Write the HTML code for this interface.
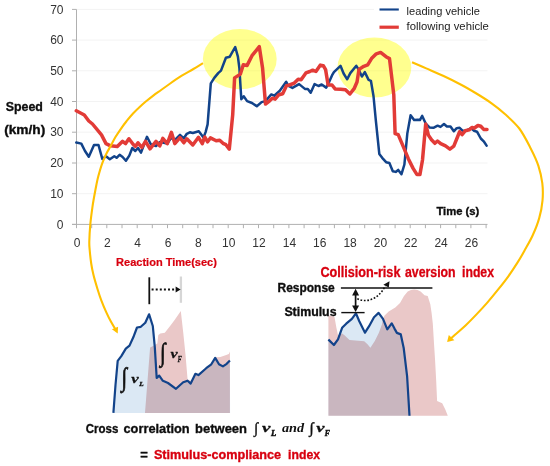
<!DOCTYPE html>
<html lang="en"><head><meta charset="utf-8"><title>Speed profile</title>
<style>html,body{margin:0;padding:0;background:#fff}body{width:550px;height:466px;overflow:hidden}</style></head>
<body>
<svg width="550" height="466" viewBox="0 0 550 466" style="display:block;font-family:'Liberation Sans', sans-serif">
<rect width="550" height="466" fill="#fff"/>
<line x1="77" y1="193.7" x2="487.5" y2="193.7" stroke="#f3f3f3" stroke-width="1"/>
<line x1="77" y1="163.0" x2="487.5" y2="163.0" stroke="#f3f3f3" stroke-width="1"/>
<line x1="77" y1="132.2" x2="487.5" y2="132.2" stroke="#f3f3f3" stroke-width="1"/>
<line x1="77" y1="101.5" x2="487.5" y2="101.5" stroke="#f3f3f3" stroke-width="1"/>
<line x1="77" y1="70.8" x2="487.5" y2="70.8" stroke="#f3f3f3" stroke-width="1"/>
<line x1="77" y1="40.1" x2="487.5" y2="40.1" stroke="#f3f3f3" stroke-width="1"/>
<line x1="77" y1="9.4" x2="487.5" y2="9.4" stroke="#f3f3f3" stroke-width="1"/>
<ellipse cx="239.8" cy="59.1" rx="36.9" ry="30.1" fill="#FFFF00" fill-opacity="0.44"/>
<ellipse cx="374.4" cy="67.5" rx="36.9" ry="30" fill="#FFFF00" fill-opacity="0.44"/>
<line x1="76.5" y1="9.4" x2="76.5" y2="224.9" stroke="#b0b0b0" stroke-width="1"/>
<line x1="72" y1="224.4" x2="487.5" y2="224.4" stroke="#b0b0b0" stroke-width="1"/>
<line x1="72" y1="224.4" x2="76.5" y2="224.4" stroke="#b0b0b0" stroke-width="1"/>
<text x="63.5" y="228.6" font-size="12" text-anchor="end" fill="#333">0</text>
<line x1="72" y1="193.7" x2="76.5" y2="193.7" stroke="#b0b0b0" stroke-width="1"/>
<text x="63.5" y="197.9" font-size="12" text-anchor="end" fill="#333">10</text>
<line x1="72" y1="163.0" x2="76.5" y2="163.0" stroke="#b0b0b0" stroke-width="1"/>
<text x="63.5" y="167.2" font-size="12" text-anchor="end" fill="#333">20</text>
<line x1="72" y1="132.2" x2="76.5" y2="132.2" stroke="#b0b0b0" stroke-width="1"/>
<text x="63.5" y="136.4" font-size="12" text-anchor="end" fill="#333">30</text>
<line x1="72" y1="101.5" x2="76.5" y2="101.5" stroke="#b0b0b0" stroke-width="1"/>
<text x="63.5" y="105.7" font-size="12" text-anchor="end" fill="#333">40</text>
<line x1="72" y1="70.8" x2="76.5" y2="70.8" stroke="#b0b0b0" stroke-width="1"/>
<text x="63.5" y="75.0" font-size="12" text-anchor="end" fill="#333">50</text>
<line x1="72" y1="40.1" x2="76.5" y2="40.1" stroke="#b0b0b0" stroke-width="1"/>
<text x="63.5" y="44.3" font-size="12" text-anchor="end" fill="#333">60</text>
<line x1="72" y1="9.4" x2="76.5" y2="9.4" stroke="#b0b0b0" stroke-width="1"/>
<text x="63.5" y="13.6" font-size="12" text-anchor="end" fill="#333">70</text>
<line x1="76.5" y1="224.4" x2="76.5" y2="228.20000000000002" stroke="#b0b0b0" stroke-width="1"/>
<text x="77.0" y="246.6" font-size="12" text-anchor="middle" fill="#333">0</text>
<line x1="91.7" y1="224.4" x2="91.7" y2="228.20000000000002" stroke="#b0b0b0" stroke-width="1"/>
<line x1="106.8" y1="224.4" x2="106.8" y2="228.20000000000002" stroke="#b0b0b0" stroke-width="1"/>
<text x="107.3" y="246.6" font-size="12" text-anchor="middle" fill="#333">2</text>
<line x1="122.0" y1="224.4" x2="122.0" y2="228.20000000000002" stroke="#b0b0b0" stroke-width="1"/>
<line x1="137.2" y1="224.4" x2="137.2" y2="228.20000000000002" stroke="#b0b0b0" stroke-width="1"/>
<text x="137.7" y="246.6" font-size="12" text-anchor="middle" fill="#333">4</text>
<line x1="152.3" y1="224.4" x2="152.3" y2="228.20000000000002" stroke="#b0b0b0" stroke-width="1"/>
<line x1="167.5" y1="224.4" x2="167.5" y2="228.20000000000002" stroke="#b0b0b0" stroke-width="1"/>
<text x="168.0" y="246.6" font-size="12" text-anchor="middle" fill="#333">6</text>
<line x1="182.7" y1="224.4" x2="182.7" y2="228.20000000000002" stroke="#b0b0b0" stroke-width="1"/>
<line x1="197.9" y1="224.4" x2="197.9" y2="228.20000000000002" stroke="#b0b0b0" stroke-width="1"/>
<text x="198.4" y="246.6" font-size="12" text-anchor="middle" fill="#333">8</text>
<line x1="213.0" y1="224.4" x2="213.0" y2="228.20000000000002" stroke="#b0b0b0" stroke-width="1"/>
<line x1="228.2" y1="224.4" x2="228.2" y2="228.20000000000002" stroke="#b0b0b0" stroke-width="1"/>
<text x="228.7" y="246.6" font-size="12" text-anchor="middle" fill="#333">10</text>
<line x1="243.4" y1="224.4" x2="243.4" y2="228.20000000000002" stroke="#b0b0b0" stroke-width="1"/>
<line x1="258.5" y1="224.4" x2="258.5" y2="228.20000000000002" stroke="#b0b0b0" stroke-width="1"/>
<text x="259.0" y="246.6" font-size="12" text-anchor="middle" fill="#333">12</text>
<line x1="273.7" y1="224.4" x2="273.7" y2="228.20000000000002" stroke="#b0b0b0" stroke-width="1"/>
<line x1="288.9" y1="224.4" x2="288.9" y2="228.20000000000002" stroke="#b0b0b0" stroke-width="1"/>
<text x="289.4" y="246.6" font-size="12" text-anchor="middle" fill="#333">14</text>
<line x1="304.1" y1="224.4" x2="304.1" y2="228.20000000000002" stroke="#b0b0b0" stroke-width="1"/>
<line x1="319.2" y1="224.4" x2="319.2" y2="228.20000000000002" stroke="#b0b0b0" stroke-width="1"/>
<text x="319.7" y="246.6" font-size="12" text-anchor="middle" fill="#333">16</text>
<line x1="334.4" y1="224.4" x2="334.4" y2="228.20000000000002" stroke="#b0b0b0" stroke-width="1"/>
<line x1="349.6" y1="224.4" x2="349.6" y2="228.20000000000002" stroke="#b0b0b0" stroke-width="1"/>
<text x="350.1" y="246.6" font-size="12" text-anchor="middle" fill="#333">18</text>
<line x1="364.7" y1="224.4" x2="364.7" y2="228.20000000000002" stroke="#b0b0b0" stroke-width="1"/>
<line x1="379.9" y1="224.4" x2="379.9" y2="228.20000000000002" stroke="#b0b0b0" stroke-width="1"/>
<text x="380.4" y="246.6" font-size="12" text-anchor="middle" fill="#333">20</text>
<line x1="395.1" y1="224.4" x2="395.1" y2="228.20000000000002" stroke="#b0b0b0" stroke-width="1"/>
<line x1="410.2" y1="224.4" x2="410.2" y2="228.20000000000002" stroke="#b0b0b0" stroke-width="1"/>
<text x="410.7" y="246.6" font-size="12" text-anchor="middle" fill="#333">22</text>
<line x1="425.4" y1="224.4" x2="425.4" y2="228.20000000000002" stroke="#b0b0b0" stroke-width="1"/>
<line x1="440.6" y1="224.4" x2="440.6" y2="228.20000000000002" stroke="#b0b0b0" stroke-width="1"/>
<text x="441.1" y="246.6" font-size="12" text-anchor="middle" fill="#333">24</text>
<line x1="455.8" y1="224.4" x2="455.8" y2="228.20000000000002" stroke="#b0b0b0" stroke-width="1"/>
<line x1="470.9" y1="224.4" x2="470.9" y2="228.20000000000002" stroke="#b0b0b0" stroke-width="1"/>
<text x="471.4" y="246.6" font-size="12" text-anchor="middle" fill="#333">26</text>
<line x1="486.1" y1="224.4" x2="486.1" y2="228.20000000000002" stroke="#b0b0b0" stroke-width="1"/>
<polyline points="76.3,142.5 81.3,143.6 85.0,151.0 88.8,156.8 94.0,145.0 98.5,145.0 102.3,158.9 106.0,156.3 109.8,159.3 114.3,156.3 116.6,157.8 119.6,154.8 122.6,157.0 125.9,160.8 129.3,155.6 132.3,148.0 135.3,151.0 138.0,148.0 141.0,152.6 147.0,136.8 150.8,144.3 156.0,146.0 160.0,142.0 167.3,143.6 171.0,138.0 175.5,139.4 180.0,134.8 183.8,138.3 186.8,133.8 189.8,132.3 192.8,133.0 198.8,131.2 203.5,137.5 205.6,132.1 207.6,124.4 210.8,83.4 214.3,77.9 218.2,73.1 221.0,70.6 225.9,57.7 229.8,56.7 235.2,47.0 237.9,56.7 239.4,68.3 241.3,99.2 243.7,96.3 247.1,101.1 252.0,103.0 256.8,106.3 261.6,102.1 265.5,101.1 271.3,94.4 274.2,95.7 279.8,90.8 286.2,81.8 288.5,86.0 292.4,87.9 299.1,84.1 304.9,88.9 307.8,88.9 310.7,92.8 314.6,84.1 318.5,86.0 321.7,84.5 326.2,87.6 329.1,82.1 332.0,75.4 333.9,72.1 340.5,65.8 343.6,73.5 347.2,79.3 350.3,73.1 356.3,65.8 359.0,70.2 361.9,76.5 364.8,72.1 368.6,79.9 370.9,80.8 373.5,96.0 375.8,120.1 379.3,153.9 382.2,157.8 386.1,162.2 389.4,163.0 392.8,171.3 395.7,171.9 398.2,169.9 401.5,174.2 404.4,164.5 407.3,133.6 410.6,115.3 414.1,120.1 417.9,119.7 419.9,120.1 422.2,115.9 425.7,123.6 429.5,127.4 433.4,127.8 437.6,125.7 440.5,126.9 444.0,124.0 446.9,126.5 450.5,126.5 453.8,131.3 456.7,128.2 459.6,127.8 462.5,130.7 466.3,130.7 471.2,128.2 474.1,130.7 477.0,131.7 480.8,138.5 483.7,141.3 486.6,145.6" fill="none" stroke="#12438A" stroke-width="2.5" stroke-linejoin="round" stroke-linecap="round"/>
<polyline points="76.3,110.8 84.3,115.0 88.8,121.0 92.5,124.0 101.5,134.9 106.0,143.6 110.6,145.8 117.3,146.6 122.6,141.3 125.6,143.6 128.9,138.8 133.1,144.3 135.5,146.4 138.0,142.8 141.8,147.3 145.5,141.3 150.0,148.8 156.0,141.3 159.8,145.8 162.8,138.3 167.3,143.6 171.4,132.3 174.8,143.6 180.0,137.6 183.8,142.8 186.8,138.8 192.8,145.0 198.5,137.3 202.3,143.7 204.7,137.0 207.6,141.8 210.4,137.9 216.2,140.8 219.7,140.3 223.0,143.3 225.9,144.7 229.3,149.1 232.7,114.8 234.6,77.9 240.4,74.1 243.3,64.8 247.1,65.4 252.0,55.7 259.3,46.7 262.6,68.3 265.5,104.0 269.4,101.1 272.3,98.2 275.1,99.2 278.9,94.7 282.7,93.7 286.6,85.6 289.5,85.0 294.3,83.1 298.2,79.2 301.1,79.8 305.9,72.9 309.8,71.5 312.7,70.2 315.9,71.5 320.4,65.1 323.3,65.7 325.6,69.6 328.1,85.0 332.0,85.0 335.1,88.9 340.7,89.3 345.5,89.7 349.9,94.0 354.1,88.7 357.0,82.0 359.0,69.4 363.8,66.3 367.7,64.8 371.5,58.6 376.3,53.8 380.6,52.4 386.0,56.7 389.5,58.6 391.8,77.9 393.8,95.0 395.1,133.6 398.2,134.6 403.5,147.1 408.3,158.7 413.1,168.4 417.0,174.6 419.9,174.6 422.5,160.0 425.7,124.0 428.4,135.1 431.5,139.8 434.9,143.3 437.5,141.0 440.7,143.7 445.5,145.9 449.9,149.1 453.8,146.2 457.7,136.5 459.6,131.7 462.1,134.6 465.4,130.7 469.2,129.8 472.1,127.4 474.1,128.2 477.9,125.5 480.8,126.3 483.7,129.4 487.0,129.4" fill="none" stroke="#E23B37" stroke-width="3.5" stroke-linejoin="round" stroke-linecap="round"/>
<path d="M203.0,63.2 C201.4,64.2 196.9,66.9 193.4,69.0 C189.9,71.1 185.7,73.3 181.8,75.7 C177.9,78.1 173.6,81.1 170.2,83.5 C166.8,85.9 163.9,88.0 161.1,90.0 C158.3,92.0 156.1,93.4 153.6,95.3 C151.1,97.2 148.6,99.2 146.1,101.3 C143.6,103.4 140.8,105.9 138.6,108.0 C136.3,110.1 134.7,111.8 132.6,114.0 C130.5,116.2 128.4,118.9 126.3,121.5 C124.2,124.1 122.0,127.2 120.2,129.8 C118.4,132.4 116.9,134.6 115.3,137.3 C113.7,140.1 112.0,143.6 110.5,146.3 C109.0,149.0 107.8,150.8 106.5,153.5 C105.2,156.2 103.8,159.0 102.4,162.8 C101.0,166.6 99.5,171.8 98.3,176.3 C97.1,180.8 96.4,184.8 95.4,190.0 C94.4,195.2 93.2,201.6 92.4,207.3 C91.6,213.0 90.8,218.7 90.3,224.4 C89.8,230.1 89.4,237.2 89.3,241.5 C89.2,245.8 89.4,246.3 89.7,250.0 C90.0,253.7 90.6,259.3 91.2,263.5 C91.8,267.7 92.5,270.9 93.5,275.1 C94.5,279.3 96.1,284.5 97.4,288.7 C98.7,292.9 99.8,296.4 101.3,300.3 C102.8,304.2 104.5,308.3 106.1,311.9 C107.7,315.4 109.3,318.7 110.9,321.6 C112.5,324.6 114.8,328.3 115.6,329.6" fill="none" stroke="#FFC000" stroke-width="2.1"/>
<polygon points="117.7,333.4 111.9,329.3 118.1,326.8" fill="#FFC000"/>
<path d="M412.0,62.3 C414.4,63.3 420.9,66.1 426.2,68.4 C431.5,70.7 437.8,73.3 443.6,76.0 C449.4,78.7 455.6,81.8 461.1,84.7 C466.6,87.6 471.3,90.4 476.4,93.5 C481.5,96.6 486.9,99.9 491.6,103.3 C496.4,106.7 500.3,109.8 504.9,114.0 C509.5,118.2 515.0,122.8 519.3,128.5 C523.6,134.2 527.5,142.2 530.7,148.4 C533.9,154.6 536.5,160.0 538.4,165.8 C540.3,171.6 541.6,177.4 542.3,183.2 C543.0,189.0 543.0,194.9 542.5,200.7 C542.0,206.5 540.9,212.3 539.2,218.1 C537.6,223.9 535.1,230.0 532.6,235.5 C530.1,241.0 526.8,246.4 524.3,251.0 C521.8,255.6 519.9,258.8 517.3,262.9 C514.7,267.0 511.9,271.3 508.7,275.8 C505.5,280.3 501.6,285.2 498.0,289.7 C494.4,294.2 490.9,298.5 487.3,302.6 C483.7,306.7 480.1,310.6 476.5,314.4 C472.9,318.2 469.4,321.8 465.8,325.2 C462.2,328.6 457.6,332.4 455.0,334.8 C452.4,337.2 450.8,338.6 450.0,339.3" fill="none" stroke="#FFC000" stroke-width="2.1"/>
<polygon points="447.1,341.9 448.8,335 454.4,340.2" fill="#FFC000"/>
<rect x="374" y="1" width="120" height="36" fill="#fff"/>
<line x1="379.5" y1="9.5" x2="398.8" y2="9.5" stroke="#12438A" stroke-width="2.1"/>
<text x="406.6" y="14.7" font-size="11.5" fill="#222" textLength="73.3" lengthAdjust="spacingAndGlyphs">leading vehicle</text>
<line x1="379.5" y1="27.2" x2="398.8" y2="27.2" stroke="#E23B37" stroke-width="3.2"/>
<text x="406.6" y="30.4" font-size="11.5" fill="#222" textLength="82.3" lengthAdjust="spacingAndGlyphs">following vehicle</text>
<text x="5.8" y="110.9" font-size="13.6" font-weight="bold" fill="#0d0d0d" stroke="#0d0d0d" stroke-width="0.35" textLength="37.1" lengthAdjust="spacingAndGlyphs">Speed</text>
<text x="4.2" y="133.6" font-size="12.6" font-weight="bold" fill="#0d0d0d" stroke="#0d0d0d" stroke-width="0.35" textLength="41.1" lengthAdjust="spacingAndGlyphs">(km/h)</text>
<text x="436.4" y="215" font-size="11.5" font-weight="bold" fill="#0d0d0d" stroke="#0d0d0d" stroke-width="0.35" textLength="42.9" lengthAdjust="spacingAndGlyphs">Time (s)</text>
<text x="116.1" y="265.7" font-size="10.8" font-weight="bold" fill="#D8000F" stroke="#D8000F" stroke-width="0.2" textLength="100.8" lengthAdjust="spacingAndGlyphs">Reaction Time(sec)</text>
<line x1="149.3" y1="277.3" x2="149.3" y2="304.2" stroke="#111" stroke-width="1.8"/>
<line x1="180.9" y1="276.5" x2="180.9" y2="302.8" stroke="#d6d6d6" stroke-width="2.3"/>
<line x1="151.6" y1="289.5" x2="175.5" y2="289.5" stroke="#111" stroke-width="1.9" stroke-dasharray="2,2.1"/>
<polygon points="180.6,289.5 175.6,286.5 175.6,292.5" fill="#111"/>
<polygon points="113.4,412.9 115.5,385.0 117.7,360.8 121.3,356.1 125.8,348.6 129.5,345.6 133.3,337.3 137.0,327.5 140.8,326.8 145.3,322.7 149.1,314.3 152.8,326.0 154.8,347.1 156.7,378.0 159.2,375.6 162.9,380.8 168.0,383.0 176.0,388.8 183.2,382.3 187.6,380.7 190.7,383.6 195.4,373.8 198.4,375.1 206.2,368.2 211.3,364.3 215.2,357.9 219.0,364.3 222.9,366.4 226.7,363.8 229.9,360.5 230.1,412.9" fill="#DBE8F4"/>
<polygon points="145.0,412.9 150.1,347.4 153.6,345.8 157.3,343.5 158.3,335.0 160.3,333.5 164.8,332.8 170.1,326.0 174.6,320.0 180.8,311.0 183.2,332.2 185.4,353.6 187.6,379.6 191.5,381.0 190.7,383.6 195.4,373.8 198.4,375.1 206.2,368.2 211.3,364.3 214.5,357.5 220.3,357.1 225.5,355.3 228.8,354.0 229.9,351.4 229.9,412.9" fill="#EAC8C8" style="mix-blend-mode:multiply"/>
<polyline points="113.4,412.9 115.5,385.0 117.7,360.8 121.3,356.1 125.8,348.6 129.5,345.6 133.3,337.3 137.0,327.5 140.8,326.8 145.3,322.7 149.1,314.3 152.8,326.0 154.8,347.1 156.7,378.0 159.2,375.6 162.9,380.8 168.0,383.0 176.0,388.8 183.2,382.3 187.6,380.7 190.7,383.6 195.4,373.8 198.4,375.1 206.2,368.2 211.3,364.3 215.2,357.9 219.0,364.3 222.9,366.4 226.7,363.8 229.9,360.5" fill="none" stroke="#12438A" stroke-width="2.2" stroke-linejoin="round"/>
<text transform="translate(121.33,385.59) scale(0.2056,0.2619)" font-size="100" font-family="'Liberation Serif', serif" fill="#111" stroke="#111" stroke-width="3">∫</text>
<text transform="translate(131.13,382.80) scale(0.1674,0.1283)" font-size="100" font-family="'Liberation Serif', serif" font-weight="bold" font-style="italic" fill="#111" stroke="#111" stroke-width="2">v</text>
<text transform="translate(139.27,386.17) scale(0.0714,0.0703)" font-size="100" font-family="'Liberation Serif', serif" font-weight="bold" font-style="italic" fill="#111" stroke="#111" stroke-width="6">L</text>
<text transform="translate(160.30,360.67) scale(0.2000,0.2588)" font-size="100" font-family="'Liberation Serif', serif" fill="#111" stroke="#111" stroke-width="3">∫</text>
<text transform="translate(170.54,358.40) scale(0.1605,0.1261)" font-size="100" font-family="'Liberation Serif', serif" font-weight="bold" font-style="italic" fill="#111" stroke="#111" stroke-width="2">v</text>
<text transform="translate(177.80,361.57) scale(0.0625,0.0734)" font-size="100" font-family="'Liberation Serif', serif" font-style="italic" fill="#111" stroke="#111" stroke-width="6">F</text>
<text y="432.7" font-size="13.2" font-weight="bold" fill="#0d0d0d" stroke="#0d0d0d" stroke-width="0.35"><tspan x="85.7" textLength="32.6" lengthAdjust="spacingAndGlyphs">Cross</tspan> <tspan x="123.5" textLength="66.1" lengthAdjust="spacingAndGlyphs">correlation</tspan> <tspan x="195.1" textLength="51.9" lengthAdjust="spacingAndGlyphs">between</tspan></text>
<text transform="translate(253.91,432.59) scale(0.1417,0.1505)" font-size="100" font-family="'Liberation Serif', serif" fill="#111" stroke="#111" stroke-width="3">∫</text>
<text transform="translate(262.11,432.40) scale(0.1907,0.1326)" font-size="100" font-family="'Liberation Serif', serif" font-weight="bold" font-style="italic" fill="#111" stroke="#111" stroke-width="2">v</text>
<text transform="translate(270.89,435.68) scale(0.0857,0.0781)" font-size="100" font-family="'Liberation Serif', serif" font-weight="bold" font-style="italic" fill="#111" stroke="#111" stroke-width="6">L</text>
<text x="281.9" y="432.4" font-size="13" font-family="'Liberation Serif', serif" font-weight="bold" font-style="italic" fill="#111" textLength="22.2" lengthAdjust="spacingAndGlyphs">and</text>
<text transform="translate(309.36,432.59) scale(0.1528,0.1505)" font-size="100" font-family="'Liberation Serif', serif" fill="#111" stroke="#111" stroke-width="3">∫</text>
<text transform="translate(316.31,432.40) scale(0.1860,0.1326)" font-size="100" font-family="'Liberation Serif', serif" font-weight="bold" font-style="italic" fill="#111" stroke="#111" stroke-width="2">v</text>
<text transform="translate(324.80,435.68) scale(0.0766,0.0781)" font-size="100" font-family="'Liberation Serif', serif" font-weight="bold" font-style="italic" fill="#111" stroke="#111" stroke-width="6">F</text>
<text x="140.3" y="458.5" font-size="13" font-weight="bold" fill="#0d0d0d" stroke="#0d0d0d" stroke-width="0.35">=</text>
<text y="458.5" font-size="13.3" font-weight="bold" fill="#D8000F" stroke="#D8000F" stroke-width="0.35"><tspan x="153.9" textLength="127.2" lengthAdjust="spacingAndGlyphs">Stimulus-compliance</tspan> <tspan x="288.1" textLength="31.9" lengthAdjust="spacingAndGlyphs">index</tspan></text>
<polygon points="328.4,415.8 328.4,339.5 329.0,340.1 333.9,345.0 338.0,339.3 342.1,327.8 346.2,323.7 351.9,318.8 355.9,313.3 359.3,321.3 365.0,332.7 369.1,326.2 374.0,317.2 378.6,312.9 383.0,318.8 387.3,329.3 391.7,323.3 394.5,328.6 396.9,332.9 400.8,334.4 403.7,348.0 407.1,376.1 409.5,415.8" fill="#DBE8F4"/>
<polygon points="328.4,415.8 328.4,315.5 334.4,316.4 336.4,327.8 338.0,335.2 342.1,333.5 344.5,335.2 349.5,340.1 364.2,341.2 367.5,344.2 370.4,347.8 374.8,340.9 378.9,332.7 381.9,324.5 383.0,318.8 384.6,315.5 388.7,311.5 395.3,307.4 400.0,303.0 404.0,296.0 407.7,291.6 411.0,289.9 414.2,289.5 417.5,290.0 420.6,291.6 424.5,295.3 427.7,296.0 430.3,304.3 431.6,313.0 432.8,323.6 434.1,345.0 435.1,360.6 436.2,381.0 437.1,401.0 442.2,403.3 445.3,409.6 447.8,415.8" fill="#EAC8C8" style="mix-blend-mode:multiply"/>
<polyline points="328.4,339.5 329.0,340.1 333.9,345.0 338.0,339.3 342.1,327.8 346.2,323.7 351.9,318.8 355.9,313.3 359.3,321.3 365.0,332.7 369.1,326.2 374.0,317.2 378.6,312.9 383.0,318.8 387.3,329.3 391.7,323.3 394.5,328.6 396.9,332.9 400.8,334.4 403.7,348.0 407.1,376.1 409.5,415.8" fill="none" stroke="#12438A" stroke-width="2.2" stroke-linejoin="round"/>
<text y="276.8" font-size="14" font-weight="bold" fill="#D8000F" stroke="#D8000F" stroke-width="0.3"><tspan x="320.5" textLength="79.9" lengthAdjust="spacingAndGlyphs">Collision-risk</tspan> <tspan x="405" textLength="50.6" lengthAdjust="spacingAndGlyphs">aversion</tspan> <tspan x="462" textLength="32" lengthAdjust="spacingAndGlyphs">index</tspan></text>
<text x="277.5" y="291.7" font-size="13.2" font-weight="bold" fill="#0d0d0d" stroke="#0d0d0d" stroke-width="0.35" textLength="57.2" lengthAdjust="spacingAndGlyphs">Response</text>
<text x="284.4" y="315.6" font-size="13.2" font-weight="bold" fill="#0d0d0d" stroke="#0d0d0d" stroke-width="0.35" textLength="52.1" lengthAdjust="spacingAndGlyphs">Stimulus</text>
<line x1="340.9" y1="288" x2="432.4" y2="288" stroke="#111" stroke-width="1.5"/>
<line x1="341.3" y1="312.6" x2="364.6" y2="312.6" stroke="#111" stroke-width="1.4"/>
<line x1="355.6" y1="294" x2="355.6" y2="307" stroke="#111" stroke-width="1.7"/>
<polygon points="355.6,288.8 352.1,295.4 359.1,295.4" fill="#111"/>
<polygon points="355.6,312 352.1,305.4 359.1,305.4" fill="#111"/>
<path d="M357.3,298.8 C366,303 378,300 385.3,286" fill="none" stroke="#111" stroke-width="1.6" stroke-dasharray="1.7,1.7"/>
<polygon points="389.5,281.2 383.4,284.7 388.8,287.6" fill="#111"/>
</svg>
</body></html>
